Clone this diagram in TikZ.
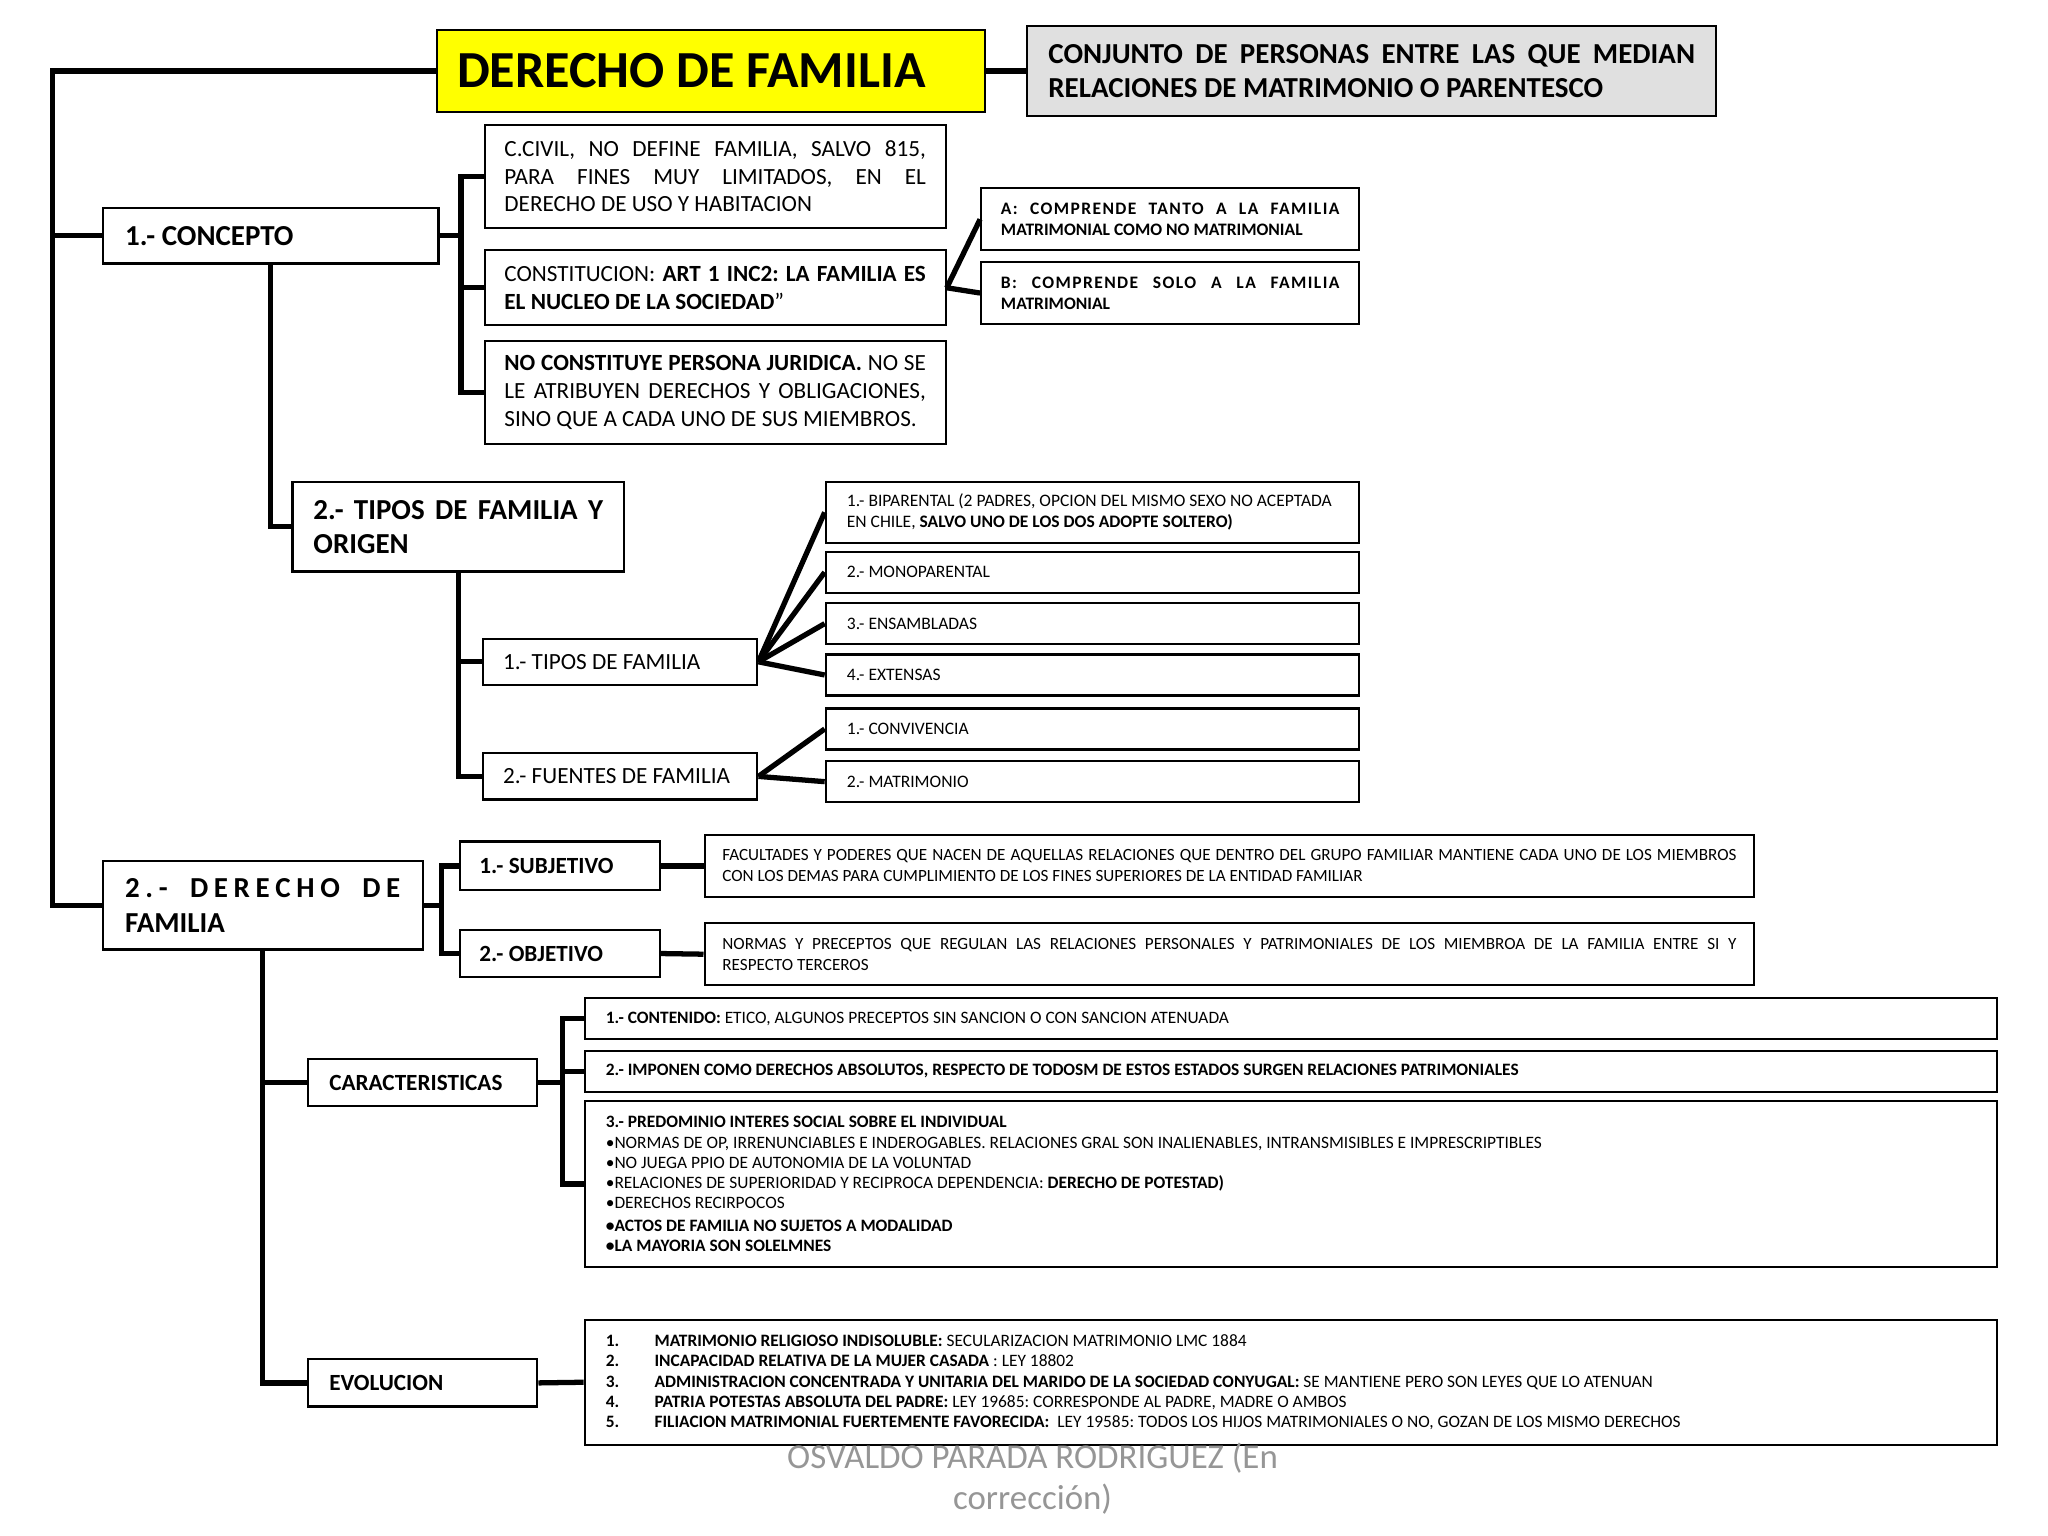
\documentclass[tikz,border=0pt]{standalone}
\usepackage{fontspec}
\setmainfont{Carlito}

\definecolor{titleyellow}{RGB}{255,255,0}
\definecolor{headgray}{RGB}{224,224,224}
\definecolor{signgray}{RGB}{150,150,150}

% one justified line of a box
\newcommand{\jline}[1]{\makebox[\linewidth][s]{\spaceskip=0pt\xspaceskip=0pt #1}\\}

\tikzset{every picture/.style={line width=0.75pt}}
\tikzset{
  box/.style={draw, line width=1.7pt, inner ysep=0pt,
    execute at begin node={\raggedright\frenchspacing\spaceskip=0pt\xspaceskip=0pt\hyphenpenalty=10000\exhyphenpenalty=10000}},
  conn/.style={line width=4pt},
  fbig/.style={font=\fontsize{22}{26}\selectfont\bfseries},
  fmid/.style={font=\fontsize{17.6}{21}\selectfont},
  fmidb/.style={font=\fontsize{17.6}{21}\selectfont\bfseries},
  fsmall/.style={font=\fontsize{13.3}{16}\selectfont\bfseries},
  ftiny/.style={font=\fontsize{13.3}{16}\selectfont},
  flist/.style={font=\fontsize{13.2}{15.3}\selectfont},
}

\begin{document}
\begin{tikzpicture}[x=1pt,y=1pt,yscale=-1,xscale=1]
\useasboundingbox (0,0) rectangle (1555,1166);

% Title and definition
\node[box, fill=titleyellow, font=\fontsize{39.5}{44}\selectfont\bfseries, minimum width=416pt, minimum height=62pt, inner xsep=15pt, text width=386pt] (title) at (540,54) {DERECHO DE FAMILIA};
\node[box, fill=headgray, fbig, minimum width=523pt, minimum height=68pt, inner xsep=16pt, text width=491pt] (head) at (1041.5,54) {\jline{CONJUNTO DE PERSONAS ENTRE LAS QUE MEDIAN}RELACIONES DE MATRIMONIO O PARENTESCO};

% 1.- Concepto
\node[box, fbig, minimum width=255pt, minimum height=42pt, inner xsep=17pt, text width=221pt] (concept) at (205.5,179) {1.- CONCEPTO};
\node[box, fmid, minimum width=350pt, minimum height=78pt, inner xsep=15pt, text width=320pt] (civil) at (543,134) {\jline{C.CIVIL, NO DEFINE FAMILIA, SALVO 815,}\jline{PARA FINES MUY LIMITADOS, EN EL}DERECHO DE USO Y HABITACION};
\node[box, fmid, minimum width=350pt, minimum height=57pt, inner xsep=15pt, text width=320pt] (const) at (543,218.5) {\jline{CONSTITUCION: \textbf{ART 1 INC2: LA FAMILIA ES}}\textbf{EL NUCLEO DE LA SOCIEDAD}”};
\node[box, fmid, minimum width=350pt, minimum height=78pt, inner xsep=15pt, text width=320pt] (nopers) at (543,298) {\jline{\textbf{NO CONSTITUYE PERSONA JURIDICA.} NO SE}\jline{LE ATRIBUYEN DERECHOS Y OBLIGACIONES,}\mbox{SINO QUE A CADA UNO DE SUS MIEMBROS.}};
\node[box, fsmall, minimum width=287pt, minimum height=47pt, inner xsep=15pt, text width=257pt] (optA) at (888.5,166.5) {\jline{\addfontfeatures{LetterSpace=8}A: COMPRENDE TANTO A LA FAMILIA}MATRIMONIAL COMO NO MATRIMONIAL};
\node[box, fsmall, minimum width=287pt, minimum height=47pt, inner xsep=15pt, text width=257pt] (optB) at (888.5,222.5) {\jline{\addfontfeatures{LetterSpace=8}B: COMPRENDE SOLO A LA FAMILIA}MATRIMONIAL};

% 2.- Tipos de familia y origen
\node[box, fbig, minimum width=252pt, minimum height=68pt, inner xsep=16pt, text width=220pt] (tipos) at (348,400) {\jline{2.- TIPOS DE FAMILIA Y}ORIGEN};
\node[box, fmid, minimum width=208pt, minimum height=35pt, inner xsep=15pt, text width=178pt] (tipofam) at (471,502.5) {\mbox{1.- TIPOS DE FAMILIA}};
\node[box, fmid, minimum width=208pt, minimum height=35pt, inner xsep=15pt, text width=178pt] (fuente) at (471,589.5) {\mbox{2.- FUENTES DE FAMILIA}};
\node[box, ftiny, minimum width=405pt, minimum height=46pt, inner xsep=16pt, text width=373pt] (bipar) at (829.5,389) {\mbox{1.- BIPARENTAL (2 PADRES, OPCION DEL MISMO SEXO NO ACEPTADA}\\EN CHILE, \textbf{SALVO UNO DE LOS DOS ADOPTE SOLTERO)}};
\node[box, ftiny, minimum width=405pt, minimum height=31pt, inner xsep=16pt, text width=373pt] (monop) at (829.5,434.5) {2.- MONOPARENTAL};
\node[box, ftiny, minimum width=405pt, minimum height=31pt, inner xsep=16pt, text width=373pt] (ensam) at (829.5,473.5) {3.- ENSAMBLADAS};
\node[box, ftiny, minimum width=405pt, minimum height=31pt, inner xsep=16pt, text width=373pt] (exten) at (829.5,512.5) {4.- EXTENSAS};
\node[box, ftiny, minimum width=405pt, minimum height=31pt, inner xsep=16pt, text width=373pt] (convi) at (829.5,553.5) {1.- CONVIVENCIA};
\node[box, ftiny, minimum width=405pt, minimum height=31pt, inner xsep=16pt, text width=373pt] (matri) at (829.5,593.5) {2.- MATRIMONIO};

% 2.- Derecho de familia
\node[box, fbig, minimum width=243pt, minimum height=67pt, inner xsep=17pt, text width=209pt] (df) at (199.5,687.5) {\makebox[\linewidth][s]{2\hfil.\hfil-\hfil\hfil\hfil\hfil D\hfil E\hfil R\hfil E\hfil C\hfil H\hfil O\hfil\hfil\hfil\hfil D\hfil E}\\FAMILIA};
\node[box, fmidb, minimum width=152pt, minimum height=37pt, inner xsep=15pt, text width=122pt] (subj) at (425,657.5) {1.- SUBJETIVO};
\node[box, fmidb, minimum width=152pt, minimum height=36pt, inner xsep=15pt, text width=122pt] (obj) at (425,724) {2.- OBJETIVO};
\node[box, font=\fontsize{13}{16}\selectfont, minimum width=797pt, minimum height=47pt, inner xsep=13.5pt, text width=770pt] (subjtxt) at (933.5,657.5) {\jline{FACULTADES Y PODERES QUE NACEN DE AQUELLAS RELACIONES QUE DENTRO DEL GRUPO FAMILIAR MANTIENE CADA UNO DE LOS MIEMBROS}CON LOS DEMAS PARA CUMPLIMIENTO DE LOS FINES SUPERIORES DE LA ENTIDAD FAMILIAR};
\node[box, font=\fontsize{13}{16}\selectfont, minimum width=797pt, minimum height=47pt, inner xsep=13.5pt, text width=770pt] (objtxt) at (933.5,724.5) {\jline{NORMAS Y PRECEPTOS QUE REGULAN LAS RELACIONES PERSONALES Y PATRIMONIALES DE LOS MIEMBROA DE LA FAMILIA ENTRE SI Y}RESPECTO TERCEROS};

% Caracteristicas
\node[box, fmidb, minimum width=174pt, minimum height=36pt, inner xsep=16pt, text width=142pt] (carac) at (321,822) {CARACTERISTICAS};
\node[box, flist, minimum width=1072pt, minimum height=31pt, inner xsep=16pt, text width=1040pt] (car1) at (980,773.5) {\textbf{1.- CONTENIDO:} ETICO, ALGUNOS PRECEPTOS SIN SANCION O CON SANCION ATENUADA};
\node[box, flist, minimum width=1072pt, minimum height=31pt, inner xsep=16pt, text width=1040pt] (car2) at (980,813.5) {\textbf{2.- IMPONEN COMO DERECHOS ABSOLUTOS, RESPECTO DE TODOSM DE ESTOS ESTADOS SURGEN RELACIONES PATRIMONIALES}};
\node[box, flist, minimum width=1072pt, minimum height=126pt, inner xsep=16pt, text width=1040pt] (car3) at (980,899) {\textbf{3.- PREDOMINIO INTERES SOCIAL SOBRE EL INDIVIDUAL}\\
•NORMAS DE OP, IRRENUNCIABLES E INDEROGABLES. RELACIONES GRAL SON INALIENABLES, INTRANSMISIBLES E IMPRESCRIPTIBLES\\
•NO JUEGA PPIO DE AUTONOMIA DE LA VOLUNTAD\\
•RELACIONES DE SUPERIORIDAD Y RECIPROCA DEPENDENCIA: \textbf{DERECHO DE POTESTAD)}\\
•DERECHOS RECIRPOCOS\\[2pt]
\textbf{•ACTOS DE FAMILIA NO SUJETOS A MODALIDAD}\\
\textbf{•LA MAYORIA SON SOLELMNES}};

% Evolucion
\node[box, fmidb, minimum width=174pt, minimum height=36pt, inner xsep=16pt, text width=142pt] (evol) at (321,1050) {EVOLUCION};
\node[box, flist, minimum width=1072pt, minimum height=95pt, inner xsep=16pt, text width=1040pt] (evoltxt) at (980,1049.5) {\makebox[37pt][l]{\textbf{1.}}\textbf{MATRIMONIO RELIGIOSO INDISOLUBLE:} SECULARIZACION MATRIMONIO LMC 1884\\
\makebox[37pt][l]{\textbf{2.}}\textbf{INCAPACIDAD RELATIVA DE LA MUJER CASADA} : LEY 18802\\
\makebox[37pt][l]{\textbf{3.}}\textbf{ADMINISTRACION CONCENTRADA Y UNITARIA DEL MARIDO DE LA SOCIEDAD CONYUGAL:} SE MANTIENE PERO SON LEYES QUE LO ATENUAN\\
\makebox[37pt][l]{\textbf{4.}}\textbf{PATRIA POTESTAS ABSOLUTA DEL PADRE:} LEY 19685: CORRESPONDE AL PADRE, MADRE O AMBOS\\
\makebox[37pt][l]{\textbf{5.}}\textbf{FILIACION MATRIMONIAL FUERTEMENTE FAVORECIDA:}\ \ LEY 19585: TODOS LOS HIJOS MATRIMONIALES O NO, GOZAN DE LOS MISMO DERECHOS};

% Author note
\node[font=\fontsize{26.5}{31}\selectfont, text=signgray, align=center] (sign) at (784,1123) {OSVALDO PARADA RODRIGUEZ (En\\corrección)};

% Connectors
\coordinate (spineTop) at (40,54);
\coordinate (spineBot) at (40,687.5);
\coordinate (cJoin) at (350,179);
\coordinate (dJoin) at (335,687.5);
\coordinate (kJoin) at (427,822);
\draw[conn] (title.west) -- (spineTop) -- (spineBot) -- (df.west);
\draw[conn] (concept.west) -- (concept.west -| spineTop);
\draw[conn] (title.east) -- (head.west);
\draw[conn] (concept.east) -- (cJoin);
\draw[conn] (civil.west) -| (cJoin) |- (nopers.west);
\draw[conn] (const.west) -- (const.west -| cJoin);
\draw[conn] (const.east) -- (optA.west);
\draw[conn] (const.east) -- (optB.west);
\draw[conn] (concept.south) |- (tipos.west);
\draw[conn] (tipos.south) |- (tipofam.west);
\draw[conn] (tipos.south) |- (fuente.west);
\foreach \t in {bipar,monop,ensam,exten}
  \draw[conn] (tipofam.east) -- (\t.west);
\draw[conn] (fuente.east) -- (convi.west);
\draw[conn] (fuente.east) -- (matri.west);
\draw[conn] (df.east) -- (dJoin);
\draw[conn] (subj.west) -| (dJoin) |- (obj.west);
\draw[conn] (subj.east) -- (subjtxt.west);
\draw[conn] (obj.east) -- (objtxt.west);
\draw[conn] (df.south) |- (carac.west);
\draw[conn] (df.south) |- (evol.west);
\draw[conn] (carac.east) -- (kJoin);
\draw[conn] (car1.west) -| (kJoin) |- (car3.west);
\draw[conn] (car2.west) -- (car2.west -| kJoin);
\draw[conn] (evol.east) -- (evoltxt.west);

\end{tikzpicture}
\end{document}
